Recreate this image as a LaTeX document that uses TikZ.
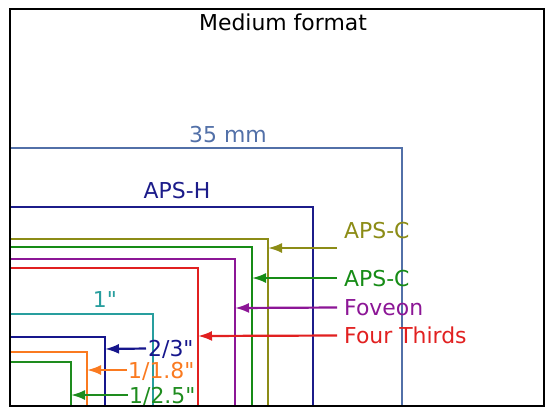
\documentclass[tikz,border=0pt]{standalone}
\usepackage{fontspec}
\setmainfont{DejaVu Sans}[Ligatures=TeXOff]
\usetikzlibrary{arrows.meta}

\definecolor{cff}{RGB}{82,112,168}
\definecolor{caph}{RGB}{28,28,138}
\definecolor{capso}{RGB}{140,140,22}
\definecolor{capsg}{RGB}{22,140,22}
\definecolor{cfov}{RGB}{140,22,150}
\definecolor{cft}{RGB}{225,32,32}
\definecolor{cone}{RGB}{40,158,158}
\definecolor{ctwo}{RGB}{22,22,140}
\definecolor{ceight}{RGB}{250,122,32}
\definecolor{cfive}{RGB}{30,140,30}

\begin{document}
\begin{tikzpicture}[
  x=1bp, y=-1bp,
  frame/.style={line width=2.2bp},
  lbl/.style={font=\fontsize{22}{26}\selectfont, inner sep=1bp,
              text height=16bp, text depth=0pt},
  rlbl/.style={lbl, anchor=west, inner xsep=7bp},
  >={Latex[length=14bp,width=10bp]}
]
\useasboundingbox (0,0) rectangle (555,416);
% sensor outlines, largest first
\draw[frame, cff] (10,406) rectangle (402,148);
\draw[frame, caph] (10,406) rectangle (313,207);
\draw[frame, capso] (10,406) rectangle (268,239);
\draw[frame, capsg] (10,406) rectangle (252,247);
\draw[frame, cfov] (10,406) rectangle (235,259);
\draw[frame, cft] (10,406) rectangle (198,268);
\draw[frame, cone] (10,406) rectangle (153,314);
\draw[frame, ctwo] (10,406) rectangle (105,337);
\draw[frame, ceight] (10,406) rectangle (87,352);
\draw[frame, cfive] (10,406) rectangle (71,362);
\draw[line width=2.4bp] (10,406) rectangle (544,9);

% edge points for the arrows
\coordinate (eapso) at (268,248);
\coordinate (eapsg) at (252,278);
\coordinate (efov) at (235,308);
\coordinate (eft) at (198,336);
\coordinate (etwo) at (105,349);
\coordinate (eeight) at (87,370);
\coordinate (efive) at (71,395);
\coordinate (tapso) at (337,248);

\node[lbl] (medium) at (283,22.5) {Medium format};
\node[lbl, text=cff] (ff) at (228,134) {35 mm};
\node[lbl, text=caph] (aph) at (177,190.5) {APS-H};
\node[lbl, text=cone] (one) at (105,299.5) {1"};
\node[rlbl, text=capso] (apso) at (337,230) {APS-C};
\node[rlbl, text=capsg] (apsg) at (337,278) {APS-C};
\node[rlbl, text=cfov] (fov) at (337,307.5) {Foveon};
\node[rlbl, text=cft] (ft) at (337,335.5) {Four Thirds};
\node[lbl, anchor=west, inner xsep=2bp, text=ctwo] (two) at (146,348.5) {2/3"};
\node[lbl, anchor=west, text=ceight] (eight) at (127,370) {1/1.8"};
\node[lbl, anchor=west, text=cfive] (five) at (128,395) {1/2.5"};

\draw[->, frame, capso] (tapso) -- (eapso);
\draw[->, frame, capsg] (apsg.west) -- (eapsg);
\draw[->, frame, cfov] (fov.west) -- (efov);
\draw[->, frame, cft] (ft.west) -- (eft);
\draw[->, frame, ctwo] (two.west) -- (etwo);
\draw[->, frame, ceight] (eight.west) -- (eeight);
\draw[->, frame, cfive] (five.west) -- (efive);
\end{tikzpicture}
\end{document}
